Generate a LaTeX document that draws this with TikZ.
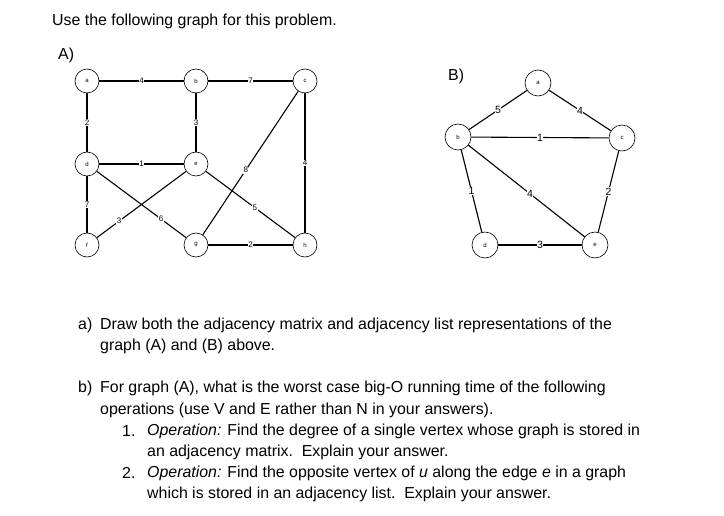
\documentclass[tikz,border=0pt]{standalone}
\usepackage{fontspec}
\setmainfont{Liberation Sans}
\begin{document}
\begin{tikzpicture}[x=1pt,y=-1pt,
  vA/.style={circle,draw,line width=0.6pt,minimum size=24pt,inner sep=0pt,font=\fontsize{6}{7}\selectfont},
  vB/.style={circle,draw,line width=0.6pt,minimum size=26pt,inner sep=0pt,font=\fontsize{6}{7}\selectfont},
  eA/.style={draw,line width=1.1pt},
  wA/.style={fill=white,inner sep=0.5pt,font=\fontsize{8}{9}\selectfont},
  wB/.style={fill=white,inner sep=0.5pt,font=\fontsize{10.5}{11}\selectfont},
  txt/.style={anchor=west,inner sep=0pt,font=\fontsize{15.9}{18}\selectfont}]
\useasboundingbox (0,0) rectangle (724,516);
\node[txt] at (52,21) {Use the following graph for this problem.};
\node[txt] at (58,55) {A)};
\node[txt] at (448,76) {B)};
% Graph A
\node[vA] (a) at (87,81) {a};
\node[vA] (b) at (196,81) {b};
\node[vA] (c) at (305,81) {c};
\node[vA] (d) at (87,164) {d};
\node[vA] (e) at (196,164) {e};
\node[vA] (f) at (87,245) {f};
\node[vA] (g) at (196,245) {g};
\node[vA] (h) at (305,245) {h};
\draw[eA] (a) -- node[wA]{4} (b);
\draw[eA] (b) -- node[wA]{7} (c);
\draw[eA] (a) -- node[wA]{2} (d);
\draw[eA] (b) -- node[wA]{3} (e);
\draw[eA] (d) -- node[wA]{1} (e);
\draw[eA] (c) -- node[wA,pos=0.55]{8} (g);
\draw[eA] (c) -- node[wA]{4} (h);
\draw[eA] (d) -- node[wA]{7} (f);
\draw[eA] (e) -- node[wA,pos=0.75]{3} (f);
\draw[eA] (d) -- node[wA,pos=0.72]{6} (g);
\draw[eA] (e) -- node[wA,pos=0.55]{5} (h);
\draw[eA] (g) -- node[wA]{2} (h);
% Graph B
\node[vB] (A) at (538,83) {a};
\node[vB] (B) at (458,137) {b};
\node[vB] (C) at (622,138) {c};
\node[vB] (D) at (485,245) {d};
\node[vB] (E) at (595,245) {e};
\draw[eA] (A) -- node[wB]{5} (B);
\draw[eA] (A) -- node[wB]{4} (C);
\draw[eA] (B) -- node[wB]{1} (C);
\draw[eA] (B) -- node[wB]{1} (D);
\draw[eA] (B) -- node[wB,pos=0.53]{4} (E);
\draw[eA] (C) -- node[wB]{2} (E);
\draw[eA] (D) -- node[wB]{3} (E);
% Text
\node[txt] at (78,325) {a)};
\node[txt] at (100,325) {Draw both the adjacency matrix and adjacency list representations of the};
\node[txt] at (100,346) {graph (A) and (B) above.};
\node[txt] at (78,388) {b)};
\node[txt] at (100,388) {For graph (A), what is the worst case big-O running time of the following};
\node[txt] at (100,410) {operations (use V and E rather than N in your answers).};
\node[txt] at (122,431) {1.};
\node[txt] at (147,431) {\textit{Operation:} Find the degree of a single vertex whose graph is stored in};
\node[txt] at (147,452) {an adjacency matrix.\ \ Explain your answer.};
\node[txt] at (122,473) {2.};
\node[txt] at (147,473) {\textit{Operation:} Find the opposite vertex of \textit{u} along the edge \textit{e} in a graph};
\node[txt] at (147,494) {which is stored in an adjacency list.\ \ Explain your answer.};
\end{tikzpicture}
\end{document}
